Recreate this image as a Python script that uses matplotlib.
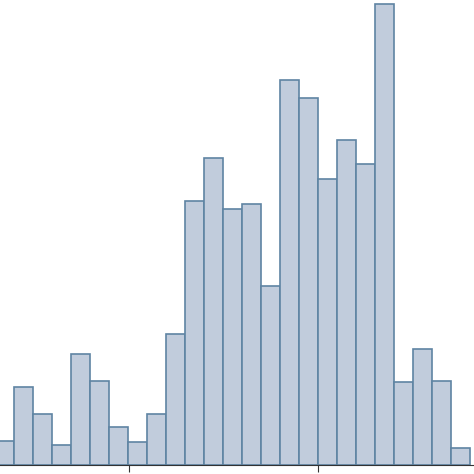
import matplotlib
matplotlib.use("Agg")
import matplotlib.pyplot as plt

bin_left = [-5, 14, 33, 52, 71, 90, 109, 128, 147, 166, 185, 204, 223, 242, 261, 280, 299, 318, 337, 356, 375, 394, 413, 432, 451]
counts = [24, 78, 51, 20, 111, 84, 38, 23, 51, 131, 264, 307, 256, 261, 179, 385, 367, 286, 325, 301, 461, 83, 116, 84, 17]
tick_pos = [129, 318]

fig = plt.figure(figsize=(4.74, 4.74), dpi=100)
ax = fig.add_axes([0, 9/474, 1, 465/474])
ax.bar(bin_left, counts, width=19, align='edge', color='#c1ccdc', edgecolor='#5f84a3', linewidth=1.2)
ax.set_xlim(0, 474)
ax.set_ylim(0, 465)
for s in ['top', 'right', 'left']:
    ax.spines[s].set_visible(False)
ax.spines['bottom'].set_color('#333333')
ax.set_xticks(tick_pos)
ax.set_xticklabels([])
ax.set_yticks([])
ax.tick_params(axis='x', length=5, direction='out', color='#333333')
fig.savefig('out.png', dpi=100)
